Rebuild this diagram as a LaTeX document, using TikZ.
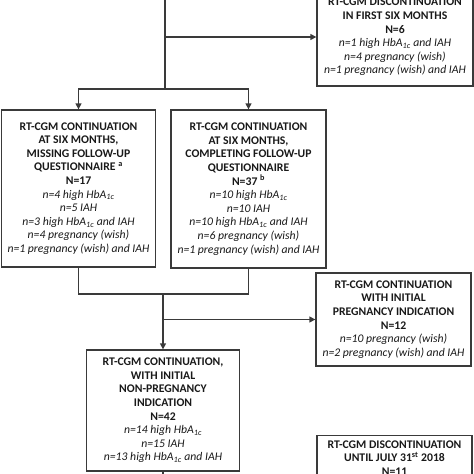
\documentclass[tikz,border=0pt]{standalone}
\usepackage{fontspec}
\setmainfont{Carlito}
\usetikzlibrary{positioning, calc, arrows.meta}

\definecolor{linegray}{HTML}{3A3A3A}
\tikzset{
    box/.style={draw=linegray, line width=1.3pt, align=center, inner sep=3pt,
        font=\fontsize{11.7}{13.6}\selectfont, text=black!90},
    arr/.style={draw=linegray, line width=1.3pt, -{Triangle[length=6pt,width=6pt]}},
    ln/.style={draw=linegray, line width=1.3pt}
}
\newcommand{\hba}{HbA\textsubscript{1c}}

\begin{document}
\begin{tikzpicture}[x=1pt, y=-1pt]
                \useasboundingbox (0,0) rectangle (474,474);
                \clip (0,0) rectangle (474,474);
                % boxes
                \node[box, minimum width=156pt, minimum height=98pt] (disc6) at (395,37)
                    {\textbf{RT-CGM DISCONTINUATION}\\\textbf{IN FIRST SIX MONTHS}\\\textbf{N=6}\\
                     \textit{n=1 high \hba{} and IAH}\\\textit{n=4 pregnancy (wish)}\\\textit{n=1 pregnancy (wish) and IAH}};
                \node[box, minimum width=154pt, minimum height=157pt] (miss) at (78.5,188.5)
                    {\textbf{RT-CGM CONTINUATION}\\\textbf{AT SIX MONTHS,}\\\textbf{MISSING FOLLOW-UP}\\\textbf{QUESTIONNAIRE \textsuperscript{a}}\\\textbf{N=17}\\
                     \textit{n=4 high \hba}\\\textit{n=5 IAH}\\\textit{n=3 high \hba{} and IAH}\\\textit{n=4 pregnancy (wish)}\\\textit{n=1 pregnancy (wish) and IAH}};
                \node[box, minimum width=155pt, minimum height=158pt] (comp) at (248.5,189)
                    {\textbf{RT-CGM CONTINUATION}\\\textbf{AT SIX MONTHS,}\\\textbf{COMPLETING FOLLOW-UP}\\\textbf{QUESTIONNAIRE}\\\textbf{N=37 \textsuperscript{b}}\\
                     \textit{n=10 high \hba}\\\textit{n=10 IAH}\\\textit{n=10 high \hba{} and IAH}\\\textit{n=6 pregnancy (wish)}\\\textit{n=1 pregnancy (wish) and IAH}};
                \node[box, minimum width=155pt, minimum height=93pt] (preg) at (393.5,319.5)
                    {\textbf{RT-CGM CONTINUATION}\\\textbf{WITH INITIAL}\\\textbf{PREGNANCY INDICATION}\\\textbf{N=12}\\
                     \textit{n=10 pregnancy (wish)}\\\textit{n=2 pregnancy (wish) and IAH}};
                \node[box, minimum width=153pt, minimum height=121pt] (nonpreg) at (163,410.5)
                    {\textbf{RT-CGM CONTINUATION,}\\\textbf{WITH INITIAL}\\\textbf{NON-PREGNANCY}\\\textbf{INDICATION}\\\textbf{N=42}\\
                     \textit{n=14 high \hba}\\\textit{n=15 IAH}\\\textit{n=13 high \hba{} and IAH}};
                \node[box, minimum width=155pt, anchor=north, inner ysep=5pt] (disc44) at (394.5,435)
                    {\textbf{RT-CGM DISCONTINUATION}\\\textbf{UNTIL JULY 31\textsuperscript{st} 2018}\\\textbf{N=11}};
                % connectors
                \coordinate (start) at (165,-5);
                \coordinate (split) at (165,89);
                \coordinate (join) at (163,294);
                \coordinate (below) at (163,490);
                \draw[ln] (start) -- (split);
                \draw[arr] (start |- disc6.west) -- (disc6.west);
                \draw[arr] (split) -| (miss.north);
                \draw[arr] (split) -| (comp.north);
                \draw[ln] (miss.south) |- (join);
                \draw[ln] (comp.south) |- (join);
                \draw[arr] (join) -- (nonpreg.north);
                \draw[arr] (join |- preg.west) -- (preg.west);
                \draw[ln] (nonpreg.south) -- (below);
            \end{tikzpicture}
\end{document}
